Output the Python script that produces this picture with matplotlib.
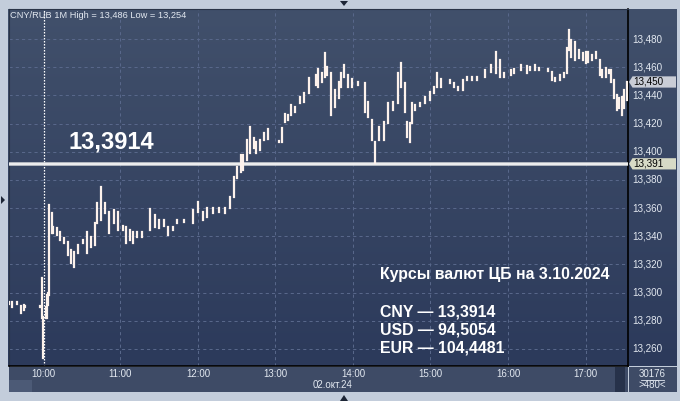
import matplotlib.pyplot as plt
import numpy as np
from matplotlib.colors import LinearSegmentedColormap
from matplotlib.patches import Polygon, Rectangle

plt.rcParams['font.family'] = ['Liberation Sans', 'DejaVu Sans']

# minute bars CNY/RUB, 02.10.2024 (high / low)
times = ['09:34', '09:36', '09:40', '09:43', '09:45', '09:46', '09:58', '09:59', '10:00', '10:02',
         '10:03', '10:04', '10:05', '10:07', '10:08', '10:11', '10:13', '10:16', '10:19', '10:22',
         '10:24', '10:27', '10:31', '10:34', '10:37', '10:40', '10:42', '10:45', '10:48', '10:51',
         '10:55', '10:58', '11:02', '11:04', '11:07', '11:10', '11:13', '11:17', '11:23', '11:27',
         '11:30', '11:34', '11:37', '11:41', '11:44', '11:49', '11:56', '12:00', '12:04', '12:07',
         '12:12', '12:16', '12:21', '12:25', '12:28', '12:30', '12:33', '12:35', '12:38', '12:40',
         '12:43', '12:45', '12:48', '12:51', '12:54', '13:03', '13:05', '13:07', '13:10', '13:12',
         '13:15', '13:19', '13:22', '13:26', '13:31', '13:33', '13:36', '13:38', '13:40', '13:43',
         '13:46', '13:49', '13:51', '13:53', '13:56', '13:59', '14:04', '14:09', '14:12', '14:15',
         '14:17', '14:20', '14:24', '14:27', '14:31', '14:35', '14:37', '14:40', '14:42', '14:44',
         '14:46', '14:48', '14:52', '14:56', '15:00', '15:03', '15:05', '15:08', '15:15', '15:18',
         '15:21', '15:25', '15:28', '15:32', '15:36', '15:42', '15:47', '15:51', '15:54', '15:57',
         '16:02', '16:05', '16:10', '16:15', '16:17', '16:21', '16:24', '16:31', '16:34', '16:36',
         '16:40', '16:43', '16:46', '16:47', '16:49', '16:52', '16:55', '16:58', '17:00', '17:02',
         '17:05', '17:08', '17:11', '17:13', '17:16', '17:18', '17:20', '17:22', '17:24', '17:26',
         '17:28', '17:30', '17:32']
highs = [13.2933, 13.2933, 13.2933, 13.2905, 13.2912, 13.2905, 13.2905, 13.3104, 13.2827, 13.2898,
         13.2983, 13.2997, 13.3622, 13.3565, 13.3466, 13.3459, 13.3430, 13.3388, 13.3359, 13.3302,
         13.3288, 13.3338, 13.3373, 13.3430, 13.3395, 13.3494, 13.3636, 13.3750, 13.3636, 13.3572,
         13.3586, 13.3572, 13.3473, 13.3466, 13.3444, 13.3430, 13.3430, 13.3430, 13.3593, 13.3551,
         13.3515, 13.3515, 13.3466, 13.3466, 13.3515, 13.3515, 13.3586, 13.3643, 13.3572, 13.3601,
         13.3601, 13.3601, 13.3601, 13.3679, 13.3821, 13.3892, 13.3977, 13.3977, 13.4083, 13.4175,
         13.4097, 13.4069, 13.4083, 13.4133, 13.4161, 13.4076, 13.4168, 13.4268, 13.4261, 13.4332,
         13.4317, 13.4388, 13.4417, 13.4523, 13.4545, 13.4587, 13.4559, 13.4701, 13.4601, 13.4559,
         13.4438, 13.4495, 13.4559, 13.4615, 13.4545, 13.4516, 13.4495, 13.4488, 13.4353, 13.4225,
         13.4069, 13.4175, 13.4211, 13.4346, 13.4353, 13.4559, 13.4630, 13.4488, 13.4211, 13.4204,
         13.4346, 13.4332, 13.4346, 13.4388, 13.4424, 13.4459, 13.4559, 13.4516, 13.4509, 13.4488,
         13.4459, 13.4509, 13.4530, 13.4530, 13.4530, 13.4580, 13.4615, 13.4708, 13.4651, 13.4559,
         13.4580, 13.4587, 13.4615, 13.4608, 13.4601, 13.4615, 13.4594, 13.4587, 13.4566, 13.4523,
         13.4545, 13.4559, 13.4736, 13.4864, 13.4793, 13.4779, 13.4722, 13.4701, 13.4708, 13.4708,
         13.4686, 13.4708, 13.4651, 13.4580, 13.4594, 13.4580, 13.4580, 13.4509, 13.4403, 13.4381,
         13.4388, 13.4438, 13.4495]
lows = [13.2919, 13.2898, 13.2919, 13.2855, 13.2877, 13.2898, 13.2898, 13.2820, 13.2536, 13.2820,
        13.2820, 13.2912, 13.2983, 13.3423, 13.3423, 13.3409, 13.3373, 13.3352, 13.3267, 13.3210,
        13.3182, 13.3281, 13.3352, 13.3281, 13.3324, 13.3338, 13.3494, 13.3515, 13.3565, 13.3423,
        13.3494, 13.3444, 13.3444, 13.3352, 13.3373, 13.3352, 13.3395, 13.3395, 13.3444, 13.3466,
        13.3459, 13.3473, 13.3409, 13.3444, 13.3494, 13.3501, 13.3494, 13.3572, 13.3515, 13.3537,
        13.3565, 13.3572, 13.3565, 13.3601, 13.3679, 13.3813, 13.3856, 13.3870, 13.3941, 13.3991,
        13.4026, 13.3991, 13.4012, 13.4083, 13.4090, 13.4069, 13.4069, 13.4211, 13.4225, 13.4261,
        13.4282, 13.4346, 13.4353, 13.4417, 13.4474, 13.4459, 13.4495, 13.4530, 13.4545, 13.4261,
        13.4317, 13.4381, 13.4459, 13.4530, 13.4459, 13.4459, 13.4474, 13.4282, 13.4246, 13.4083,
        13.3920, 13.4083, 13.4083, 13.4204, 13.4296, 13.4346, 13.4459, 13.4282, 13.4104, 13.4069,
        13.4204, 13.4296, 13.4324, 13.4346, 13.4367, 13.4417, 13.4459, 13.4459, 13.4488, 13.4459,
        13.4438, 13.4438, 13.4509, 13.4509, 13.4509, 13.4530, 13.4566, 13.4559, 13.4530, 13.4530,
        13.4545, 13.4559, 13.4580, 13.4559, 13.4580, 13.4580, 13.4580, 13.4573, 13.4509, 13.4502,
        13.4509, 13.4530, 13.4559, 13.4722, 13.4672, 13.4651, 13.4665, 13.4651, 13.4630, 13.4637,
        13.4651, 13.4665, 13.4545, 13.4530, 13.4530, 13.4559, 13.4495, 13.4381, 13.4296, 13.4310,
        13.4261, 13.4310, 13.4367]

hour_labels = ['10:00', '11:00', '12:00', '13:00', '14:00', '15:00', '16:00', '17:00']
price_ticks = [13.26, 13.28, 13.30, 13.32, 13.34, 13.36, 13.38, 13.40, 13.42, 13.44, 13.46, 13.48]
cbr_rate = 13.3914
cbr_label = '13,391'
last_price = 13.4495
last_label = '13,450'
title = 'CNY/RUB 1M High = 13,486 Low = 13,254'
date_label = '02.окт.24'
info_lines = ['Курсы валют ЦБ на 3.10.2024', '', 'CNY — 13,3914', 'USD — 94,5054', 'EUR — 104,4481']


def to_min(s):
    h, m = s.split(':')
    return int(h) * 60 + int(m) - 600


W, H = 680, 401


def rect(x0, y0, x1, y1):
    return [x0 / W, 1 - y1 / H, (x1 - x0) / W, (y1 - y0) / H]


XLIM = (-26.3, 452.9)
YLIM = (13.2479, 13.5013)
txt = '#e2e8f0'

fig = plt.figure(figsize=(6.8, 4.01), dpi=100, facecolor='#c3cddb')

# gradient background behind plot + price scale
grad = LinearSegmentedColormap.from_list('bg', ['#41506b', '#2c3a5b'])
bg = fig.add_axes(rect(8, 9, 677, 366))
bg.imshow(np.linspace(0, 1, 256).reshape(-1, 1), cmap=grad, aspect='auto', extent=[0, 1, 0, 1])
bg.set_axis_off()

ax = fig.add_axes(rect(9, 9, 628, 366))
ax.patch.set_alpha(0)
ax.set_xlim(*XLIM)
ax.set_ylim(*YLIM)
for p in price_ticks:
    ax.axhline(p, color='#58678a', lw=0.75, ls=(0, (3, 3)), zorder=1)
for lab in hour_labels[1:]:
    ax.axvline(to_min(lab), color='#58678a', lw=0.75, ls=(0, (3, 3)), zorder=1)
ax.axvline(to_min('10:00') + 0.5, color='white', lw=0.9, ls=(0, (1.2, 1.2)), zorder=2)

t = [to_min(s) for s in times]
ax.vlines(t, lows, highs, colors='#fdf2ec', lw=1.6, capstyle='projecting', zorder=4)

ax.axhline(cbr_rate, color='#cfd2d6', lw=2.6, zorder=3)
ax.axhline(cbr_rate, color='#f6f6f6', lw=1.1, zorder=3)

ax.set_xticks([])
ax.set_yticks([])
for s in ['left', 'top']:
    ax.spines[s].set_color('#2a3447')
for s in ['right', 'bottom']:
    ax.spines[s].set_color('black')
    ax.spines[s].set_linewidth(1.2)

# price scale on the right
rax = fig.add_axes(rect(628, 9, 677, 366))
rax.patch.set_alpha(0)
rax.set_xlim(0, 49)
rax.set_ylim(*YLIM)
rax.set_axis_off()
for p in price_ticks:
    rax.text(4, p, f'{p:.3f}'.replace('.', ','), color=txt, fontsize=7.1, va='center', ha='left')
ph = 0.0040
for val, lab, col in [(last_price, last_label, '#c9cdd6'), (cbr_rate, cbr_label, '#d7dac6')]:
    rax.add_patch(Polygon([(1, val), (4.5, val + ph), (48, val + ph), (48, val - ph), (4.5, val - ph)],
                          closed=True, facecolor=col, edgecolor='none', zorder=5))
    rax.text(5, val, lab, color='black', fontsize=7.1, va='center', ha='left', zorder=6)

# time scale
bax = fig.add_axes(rect(9, 367, 628, 392))
bax.set_facecolor('#3e4b66')
bax.set_xlim(*XLIM)
bax.set_ylim(0, 25)
bax.set_xticks([])
bax.set_yticks([])
for s in bax.spines.values():
    s.set_visible(False)
bax.add_patch(Rectangle((XLIM[0], 0), 18, 12, facecolor='#4c5a76', edgecolor='none'))
bax.add_patch(Rectangle((to_min('17:23'), 0), 7.5, 25, facecolor='#27324a', edgecolor='none'))
for lab in hour_labels:
    bax.text(to_min(lab), 18, lab, color=txt, fontsize=7, ha='center', va='center')
bax.text(to_min('13:44'), 6.5, date_label, color=txt, fontsize=7, ha='center', va='center')

cax = fig.add_axes(rect(629, 367, 677, 392))
cax.set_facecolor('#3e4b66')
cax.set_xlim(0, 48)
cax.set_ylim(0, 25)
cax.set_axis_off()
cax.add_patch(Rectangle((0, 0), 48, 25, facecolor='#3e4b66', edgecolor='none'))
cax.text(23, 18, '30176', color=txt, fontsize=7, ha='center', va='center')
cax.plot([12, 35], [12.5, 12.5], color=txt, lw=0.6)
cax.text(23, 6.5, '>480<', color=txt, fontsize=7, ha='center', va='center')

# texts on the chart
fig.text(10 / W, 1 - 15 / H, title, color=txt, fontsize=6.7, ha='left', va='center')
fig.text(68 / W, 1 - 142 / H, f'{cbr_rate:.4f}'.replace('.', ','), color='white', fontsize=17,
         fontweight='bold', ha='left', va='center')
ys = [275, 293, 312, 330, 348]
for line, y in zip(info_lines, ys):
    if line:
        fig.text(380 / W, 1 - y / H, line, color='white', fontsize=11.4, fontweight='bold',
                 ha='left', va='center')

# little navigation arrows on the frame
tri = fig.add_axes([0, 0, 1, 1])
tri.set_xlim(0, W)
tri.set_ylim(H, 0)
tri.set_axis_off()
tri.patch.set_alpha(0)
tri.add_patch(Polygon([(340, 1), (348, 1), (344, 6)], facecolor='#1c2535', edgecolor='none'))
tri.add_patch(Polygon([(340, 401), (348, 401), (344, 395)], facecolor='#1c2535', edgecolor='none'))
tri.add_patch(Polygon([(1, 196), (1, 204), (5, 200)], facecolor='#1c2535', edgecolor='none'))

fig.savefig('out.png', dpi=100, facecolor=fig.get_facecolor())
